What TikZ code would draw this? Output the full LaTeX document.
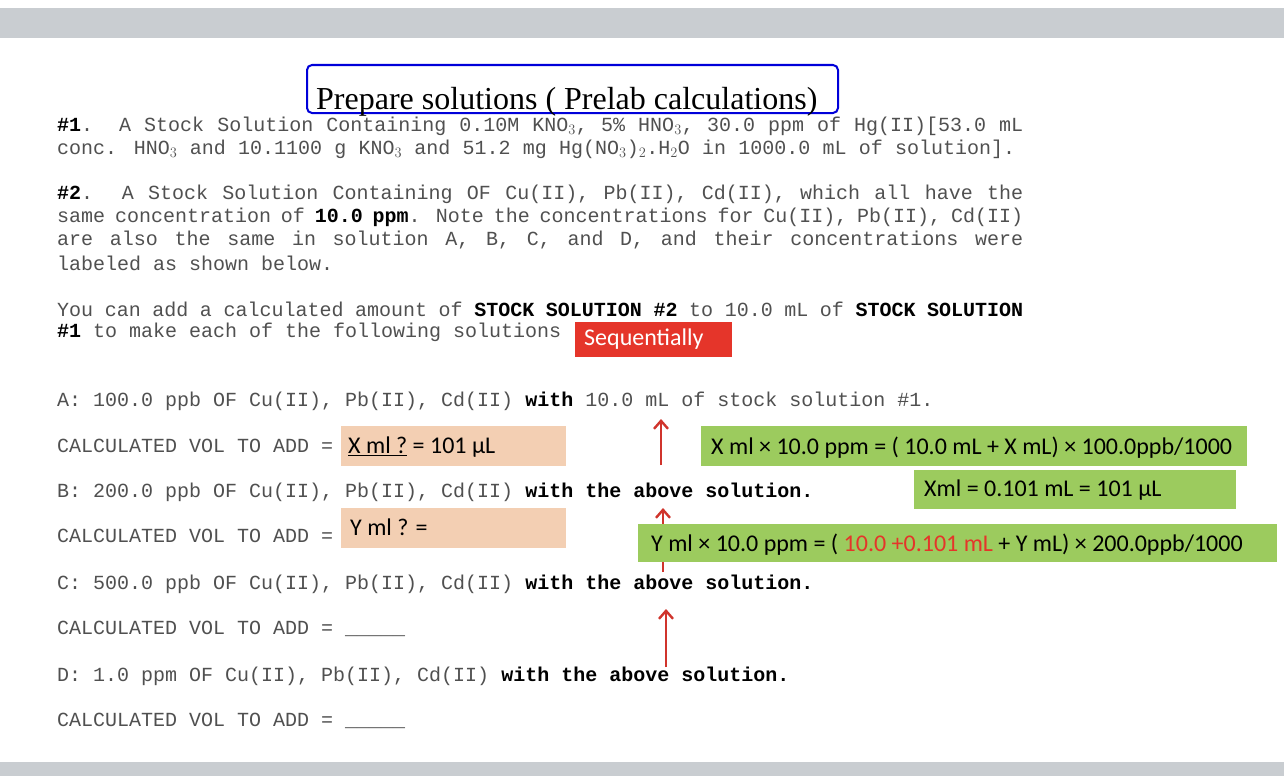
\documentclass[tikz,border=0pt]{standalone}
\usepackage{fontspec}
\setmainfont{Liberation Serif}
\newfontfamily\mono{Liberation Mono}
\newfontfamily\carl{Carlito}
\definecolor{txt}{HTML}{505050}
\definecolor{peach}{HTML}{F3CFB3}
\definecolor{grn}{HTML}{9CCB5E}
\definecolor{redbx}{HTML}{E5352A}
\definecolor{arr}{HTML}{D0342C}
\definecolor{bar}{HTML}{C9CDD1}
\usetikzlibrary{arrows.meta}
\tikzset{
 ln/.style={anchor=west,inner sep=0,text=txt,font=\mono\fontsize{20}{22}\selectfont},
 gbox/.style={fill=grn,inner sep=0},
 pbox/.style={fill=peach,inner sep=0},
 ctext/.style={anchor=west,inner sep=0,font=\carl\fontsize{24}{26}\selectfont},
 rarr/.style={draw=arr,line width=2.4pt,-{Straight Barb[length=8pt,width=14pt]}}
}
\begin{document}
\begin{tikzpicture}[x=1pt,y=-1pt]
\useasboundingbox (0,0) rectangle (1284,776);
\fill[white] (0,0) rectangle (1284,776);
\fill[bar] (0,8) rectangle (1284,38);
\fill[bar] (0,762) rectangle (1284,776);
\node[draw=blue!85!black,line width=2pt,rounded corners=5pt,minimum width=531pt,minimum height=48pt,inner sep=0] (title) at (572.5,89) {};
\node[anchor=base west,inner sep=0,font=\fontsize{32}{34}\selectfont] (tt) at (316,109) {Prepare solutions ( Prelab calculations)};
\def\b#1{\textbf{\color{black}#1}}
\def\J#1{\makebox[966pt][s]{#1}}
\node[ln] (l1) at (57,126) {\J{\b{\#1}.\ \ A Stock Solution Containing 0.10M KNO$_3$, 5\% HNO$_3$, 30.0 ppm of Hg(II)[53.0 mL}};
\node[ln] (l2) at (57,149) {\makebox[958pt][s]{conc. HNO$_3$ and 10.1100 g KNO$_3$ and 51.2 mg Hg(NO$_3$)$_2$.H$_2$O in 1000.0 mL of solution].}};
\node[ln] (l3) at (57,194) {\J{\b{\#2}.\ \ A Stock Solution Containing OF Cu(II), Pb(II), Cd(II), which all have the}};
\node[ln] (l4) at (57,217) {\J{same concentration of \b{10.0 ppm}. Note the concentrations for Cu(II), Pb(II), Cd(II)}};
\node[ln] (l5) at (57,240) {\J{are also the same in solution A, B, C, and D, and their concentrations were}};
\node[ln] (l6) at (57,263) {labeled as shown below.};
\node[ln] (l7) at (57,309) {\J{You can add a calculated amount of \b{STOCK SOLUTION \#2} to 10.0 mL of \b{STOCK SOLUTION}}};
\node[ln] (l8) at (57,332) {\b{\#1} to make each of the following solutions};
\node[fill=redbx,minimum width=157pt,minimum height=35pt,inner sep=0] (seq) at (653.5,339.5) {};
\node[ctext,text=white] at (584,339) {Sequentially};
\node[ln] (a) at (57,401) {A: 100.0 ppb OF Cu(II), Pb(II), Cd(II) \b{with} 10.0 mL of stock solution \#1.};
\node[ln] (ca) at (57,446) {CALCULATED VOL TO ADD =};
\node[ln] (b) at (57,492) {B: 200.0 ppb OF Cu(II), Pb(II), Cd(II) \b{with the above solution.}};
\node[ln] (cb) at (57,537) {CALCULATED VOL TO ADD = \_\_\_\_\_};
\node[ln] (c) at (57,584) {C: 500.0 ppb OF Cu(II), Pb(II), Cd(II) \b{with the above solution.}};
\node[ln] (cc) at (57,629) {CALCULATED VOL TO ADD = \_\_\_\_\_};
\node[ln] (d) at (57,676) {D: 1.0 ppm OF Cu(II), Pb(II), Cd(II) \b{with the above solution.}};
\node[ln] (cd) at (57,721) {CALCULATED VOL TO ADD = \_\_\_\_\_};
\node[pbox,minimum width=225pt,minimum height=40pt] (px) at (453.5,446) {};
\node[ctext] at (348,447) {\underline{X ml ?} = 101 µL};
\node[pbox,minimum width=225pt,minimum height=40pt] (py) at (453.5,528) {};
\node[ctext] at (350,527) {Y ml ? =};
\coordinate (a1) at (661,465); \coordinate (a1h) at (661,419);
\coordinate (a2) at (663,572); \coordinate (a2h) at (663,508);
\coordinate (a3) at (666,667); \coordinate (a3h) at (666,609);
\draw[rarr] (a1) -- (a1h);
\draw[rarr] (a2) -- (a2h);
\draw[rarr] (a3) -- (a3h);
\node[gbox,minimum width=546pt,minimum height=40pt] (g1) at (974,446) {};
\node[ctext] at (711,448) {X ml × 10.0 ppm = ( 10.0 mL + X mL) × 100.0ppb/1000};
\node[gbox,minimum width=322pt,minimum height=39pt] (g2) at (1075,489) {};
\node[ctext] at (924,490) {Xml = 0.101 mL = 101 µL};
\node[gbox,minimum width=639pt,minimum height=38pt] (g3) at (957.5,543) {};
\node[ctext] at (651,545) {Y ml × 10.0 ppm = ( {\color{redbx}10.0 +0.101 mL} + Y mL) × 200.0ppb/1000};
\end{tikzpicture}
\end{document}
